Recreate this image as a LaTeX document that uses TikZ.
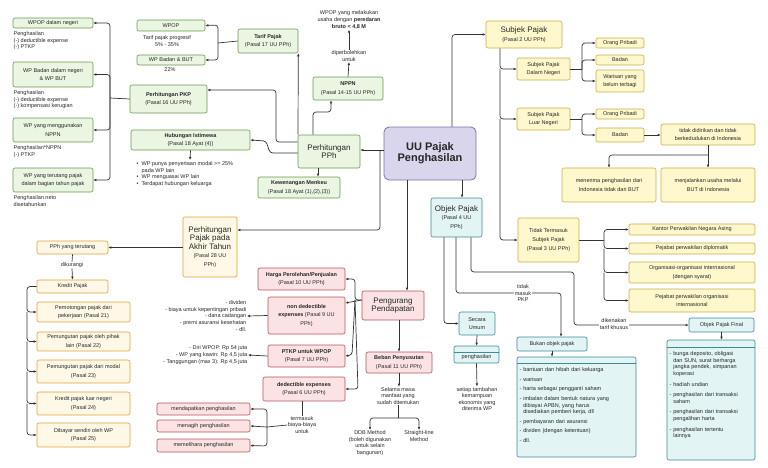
\documentclass[tikz,border=0pt]{standalone}
\usepackage{fontspec}
\setmainfont{Liberation Sans}
\usetikzlibrary{arrows.meta}
\definecolor{gF}{HTML}{EAF5E2}\definecolor{gD}{HTML}{6A9A50}
\definecolor{yF}{HTML}{FFF8CC}\definecolor{yD}{HTML}{C9AE45}
\definecolor{rF}{HTML}{FBE3E3}\definecolor{rD}{HTML}{B8505E}
\definecolor{bF}{HTML}{E2F4F4}\definecolor{bD}{HTML}{3C8C98}
\definecolor{pF}{HTML}{D9D5EC}\definecolor{pD}{HTML}{7D70AE}
\definecolor{oF}{HTML}{FFF8E6}\definecolor{oD}{HTML}{E0A030}
\newcommand{\fs}{\fontsize{5.5}{6.6}\selectfont}
\newcommand{\fh}{\fontsize{8}{9}\selectfont}
\newcommand{\bx}[7]{\node[#1,minimum width={(#5-#3)*1pt},minimum height={(#6-#4)*1pt}] (#2) at ({(#3+#5)/2},{(#4+#6)/2}) {#7};}
\tikzset{
 base/.style={draw,rounded corners=2pt,align=center,inner sep=0.5pt,font=\fs,line width=0.6pt,text=black!85},
 gbox/.style={base,fill=gF,draw=gD},
 ybox/.style={base,fill=yF,draw=yD},
 rbox/.style={base,fill=rF,draw=rD},
 bbox/.style={base,fill=bF,draw=bD},
 obox/.style={base,fill=oF,draw=oD},
 pbox/.style={base,fill=pF,draw=pD,line width=0.8pt,rounded corners=5pt},
 txt/.style={align=center,font=\fs,inner sep=0.5pt,text=black!85},
 ltxt/.style={align=left,font=\fs,inner sep=0.5pt,text=black!85},
 rtxt/.style={align=right,font=\fs,inner sep=0.5pt,text=black!85},
 arr/.style={draw=black!80,line width=0.7pt,rounded corners=3pt,-{Latex[length=3pt,width=2.6pt]}},
 ln/.style={draw=black!80,line width=0.7pt,rounded corners=3pt},
}
\begin{document}
\begin{tikzpicture}[x=1pt,y=-1pt]
\useasboundingbox (0,0) rectangle (768,467);
% main
\bx{pbox}{main}{384}{127}{476}{180}{\fontsize{11}{13}\selectfont\bfseries UU Pajak\\\fontsize{11}{13}\selectfont\bfseries Penghasilan}
% left green part
\bx{gbox}{pph}{298}{135}{360}{168}{\fh Perhitungan\\\fh PPh}
\bx{gbox}{tarif}{238}{29}{298}{53}{\textbf{Tarif Pajak}\\[2pt](Pasal 17 UU PPh)}
\bx{gbox}{wpop}{137}{20}{205}{31}{WPOP}
\node[txt] (t1) at (167,41) {Tarif pajak progresif\\5\% - 35\%};
\bx{gbox}{wpb}{137}{55}{205}{65}{WP Badan \& BUT}
\node[txt] (t2) at (170,70) {22\%};
\bx{gbox}{nppn}{313}{77}{383}{100}{\textbf{NPPN}\\[2pt](Pasal 14-15 UU PPh)}
\node[txt] (top) at (349,20) {WPOP yang melakukan\\usaha dengan \textbf{peredaran}\\\textbf{bruto < 4,8 M}};
\node[txt,fill=white] (dip) at (349,56) {diperbolehkan\\untuk};
\bx{gbox}{pkp}{130}{85}{207}{113}{\textbf{Perhitungan PKP}\\[2pt](Pasal 16 UU PPh)}
\bx{gbox}{l1}{13}{18}{93}{28}{WPOP dalam negeri}
\node[ltxt,anchor=north west] at (13,31) {Penghasilan\\(-) deductible expense\\(-) PTKP};
\bx{gbox}{l2}{13}{62}{93}{87}{WP Badan dalam negeri\\[2pt]\& WP BUT}
\node[ltxt,anchor=north west] at (13,90) {Penghasilan\\(-) deductible expense\\(-) kompensasi kerugian};
\bx{gbox}{l3}{13}{118}{93}{142}{WP yang menggunakan\\[2pt]NPPN}
\node[ltxt,anchor=north west] at (13,145) {Penghasilan*NPPN\\(-) PTKP};
\bx{gbox}{l4}{13}{168}{93}{192}{WP yang terutang pajak\\[2pt]dalam bagian tahun pajak}
\node[ltxt,anchor=north west] at (13,195) {Penghasilan neto\\disetahunkan};
\bx{gbox}{hub}{131}{130}{250}{150}{\textbf{Hubungan Istimewa}\\[2pt](Pasal 18 Ayat (4))}
\node[ltxt,anchor=north west] (bul) at (136,161) {\textbullet\ \ WP punya penyertaan modal >= 25\%\\\phantom{\textbullet\ \ }pada WP lain\\\textbullet\ \ WP menguasai WP lain\\\textbullet\ \ Terdapat hubungan keluarga};
\bx{gbox}{kew}{258}{177}{340}{198}{\textbf{Kewenangan Menkeu}\\[2pt](Pasal 18 Ayat (1),(2),(3))}
% akhir tahun
\bx{obox}{akhir}{183}{217}{237}{277}{\fh Perhitungan\\\fh Pajak pada\\\fh Akhir Tahun\\[2pt](Pasal 28 UU\\[2pt]PPh)}
\bx{obox}{teru}{37}{241}{108}{254}{PPh yang terutang}
\node[txt,fill=white] (kur) at (72,265) {dikurangi};
\bx{obox}{kred}{37}{280}{108}{293}{Kredit Pajak}
\bx{obox}{y1}{37}{302}{130}{322}{Pemotongan pajak dari\\[2pt]pekerjaan (Pasal 21)}
\bx{obox}{y2}{37}{332}{130}{351}{Pemungutan pajak oleh pihak\\[2pt]lain (Pasal 22)}
\bx{obox}{y3}{37}{360}{130}{383}{Pemungutan pajak dari modal\\[2pt](Pasal 23)}
\bx{obox}{y4}{37}{392}{130}{415}{Kredit pajak luar negeri\\[2pt](Pasal 24)}
\bx{obox}{y5}{37}{423}{130}{447}{Dibayar sendiri oleh WP\\[2pt](Pasal 25)}
% pengurang
\bx{rbox}{peng}{362}{291}{424}{320}{\fh Pengurang\\\fh Pendapatan}
\bx{rbox}{harga}{258}{268}{345}{290}{\textbf{Harga Perolehan/Penjualan}\\[2pt](Pasal 10 UU PPh)}
\bx{rbox}{nond}{268}{297}{345}{334}{\textbf{non dedectible}\\[2pt]\textbf{expenses} (Pasal 9 UU\\[2pt]PPh)}
\node[rtxt,anchor=east] (nl) at (247,316) {- dividen\\- biaya untuk kepentingan pribadi\\- dana cadangan\\- premi asuransi kesehatan\\- dll.};
\bx{rbox}{ptkp}{268}{345}{345}{367}{\textbf{PTKP untuk WPOP}\\[2pt](Pasal 7 UU PPh)}
\node[rtxt,anchor=east] (pl) at (248,355) {- Diri WPOP: Rp 54 juta\\- WP yang kawin: Rp 4,5 juta\\- Tanggungan (max 3): Rp 4,5 juta};
\bx{rbox}{ded}{263}{377}{345}{401}{\textbf{dedectible expenses}\\[2pt](Pasal 6 UU PPh)}
\node[txt] (term) at (302,425) {termasuk\\biaya-biaya\\untuk};
\bx{rbox}{r1}{157}{403}{250}{415}{mendapatkan penghasilan}
\bx{rbox}{r2}{157}{420}{250}{432}{menagih penghasilan}
\bx{rbox}{r3}{157}{439}{250}{452}{memelihara penghasilan}
\bx{rbox}{beban}{366}{352}{432}{373}{\textbf{Beban Penyusutan}\\[2pt](Pasal 11 UU PPh)}
\node[txt] (sel) at (398,396) {Selama masa\\manfaat yang\\sudah ditentukan};
\node[txt,anchor=north] (ddb) at (370,430) {DDB Method\\(boleh digunakan\\untuk selain\\bangunan)};
\node[txt,anchor=north] (sl) at (419,430) {Straight-line\\Method};
% objek
\bx{bbox}{objek}{431}{198}{482}{237}{\fh Objek Pajak\\[2pt](Pasal 4 UU\\[2pt]PPh)}
\bx{bbox}{umum}{459}{312}{495}{335}{Secara\\[2pt]Umum}
\bx{bbox}{pgh}{454}{346}{499}{363}{}
\draw[bD,line width=0.6pt] (454,352) -- (499,352);
\node[txt] at (476.5,357.5) {penghasilan};
\node[txt] (setiap) at (477,399) {setiap tambahan\\kemampuan\\ekonomis yang\\diterima WP};
\bx{bbox}{bukan}{517}{337}{587}{351}{Bukan objek pajak}
\bx{bbox}{blist}{517}{357}{636}{457}{}
\draw[bD,line width=0.6pt] (517,363) -- (636,363);
\node[ltxt,anchor=north west,text width=114pt] at (519,367) {- bantuan dan hibah dari keluarga\\[3pt]- warisan\\[3pt]- harta sebagai pengganti saham\\[3pt]- imbalan dalam bentuk natura yang\\\phantom{- }dibiayai APBN, yang harus\\\phantom{- }disediakan pemberi kerja, dll\\[3pt]- pembayaran dari asuransi\\[3pt]- dividen (dengan ketentuan)\\[3pt]- dll.};
\bx{bbox}{final}{689}{318}{754}{332}{Objek Pajak Final}
\bx{bbox}{flist}{667}{340}{755}{460}{}
\draw[bD,line width=0.6pt] (667,347) -- (755,347);
\node[ltxt,anchor=north west,text width=86pt] at (669,351) {- bunga deposito, obligasi\\\phantom{- }dan SUN, surat berharga\\\phantom{- }jangka pendek, simpanan\\\phantom{- }koperasi\\[4pt]- hadiah undian\\[4pt]- penghasilan dari transaksi\\\phantom{- }saham\\[4pt]- penghasilan dari transaksi\\\phantom{- }pengalihan harta\\[4pt]- penghasilan tertentu\\\phantom{- }lainnya};
% subjek
\bx{ybox}{subj}{486}{21}{562}{48}{\fh Subjek Pajak\\[2pt](Pasal 2 UU PPh)}
\bx{ybox}{dn}{517}{58}{570}{80}{Subjek Pajak\\[2pt]Dalam Negeri}
\bx{ybox}{op1}{596}{38}{644}{48}{Orang Pribadi}
\bx{ybox}{bd1}{596}{55}{644}{65}{Badan}
\bx{ybox}{war}{596}{70}{644}{92}{Warisan yang\\[2pt]belum terbagi}
\bx{ybox}{lnn}{517}{108}{570}{130}{Subjek Pajak\\[2pt]Luar Negeri}
\bx{ybox}{op2}{596}{109}{644}{119}{Orang Pribadi}
\bx{ybox}{bd2}{596}{128}{644}{142}{Badan}
\bx{ybox}{tdk}{661}{124}{755}{145}{tidak didirikan dan tidak\\[2pt]berkedudukan di Indonesia}
\bx{ybox}{mene}{562}{168}{656}{202}{menerima penghasilan dari\\[2pt]Indonesia tidak dari BUT}
\bx{ybox}{menj}{661}{168}{755}{202}{menjalankan usaha melalui\\[2pt]BUT di Indonesia}
\bx{ybox}{tt}{518}{218}{579}{262}{Tidak Termasuk\\[2pt]Subjek Pajak\\[2pt](Pasal 3 UU PPh)}
\bx{ybox}{k1}{629}{224}{755}{235}{Kantor Perwakilan Negara Asing}
\bx{ybox}{k2}{629}{243}{755}{254}{Pejabat perwakilan diplomatik}
\bx{ybox}{k3}{629}{262}{755}{283}{Organisasi-organisasi internasional\\[2pt](dengan syarat)}
\bx{ybox}{k4}{629}{289}{755}{312}{Pejabat perwakilan organisasi\\[2pt]internasional}
% ---------- connectors
\draw[arr] (main.north -| 452,0) |- (subj.west);
\draw[arr] (main.west |- 0,150) -- (pph.east |- 0,150);
\draw[arr] (380,150) -- (380,230) -- (akhir.east |- 0,230);
\draw[arr] (main.south -| 407,0) -- (peng.north -| 407,0);
\draw[arr] (main.south -| 462,0) -- (objek.north -| 462,0);
% pph
\draw[arr] (pph.north -| 298,0) -- (tarif.south east);
\draw[arr] (pph.north -| 313,0) -- (313,112) -- (331,112) -- (nppn.south -| 331,0);
\draw[arr] (nppn.north) -- (dip.south);
\draw[arr] (dip.north) -- (top.south);
\draw[arr] (pph.west |- 0,142) -- (276,142) -- (276,90) -- (pkp.east |- 0,90);
\draw[arr] (pph.west |- 0,153) -- (270,153) -- (266,141) -- (hub.east);
\draw[arr] (pph.south -| 318,0) -- (kew.north -| 318,0);
\draw[arr] (hub.south) -- (190,160);
\draw[ln] (tarif.west) -- (218,43);
\draw[arr] (218,43) -- (218,25) -- (wpop.east);
\draw[arr] (218,43) -- (218,60) -- (wpb.east);
\draw[ln] (pkp.west) -- (110,98);
\draw[arr] (110,98) -- (110,23) -- (l1.east);
\draw[arr] (110,98) -- (110,74.5) -- (l2.east);
\draw[arr] (110,98) -- (110,130) -- (l3.east);
\draw[arr] (110,98) -- (110,180) -- (l4.east);
% akhir tahun
\draw[arr] (akhir.west |- 0,247.5) -- (teru.east);
\draw[ln] (teru.south) -- (kur.north);
\draw[arr] (kur.south) -- (kred.north);
\draw[arr] (kred.west) -- (27,286.5) -- (27,312) -- (y1.west);
\draw[arr] (27,312) -- (27,341.5) -- (y2.west);
\draw[arr] (27,341.5) -- (27,371.5) -- (y3.west);
\draw[arr] (27,371.5) -- (27,403.5) -- (y4.west);
\draw[arr] (27,403.5) -- (27,435) -- (y5.west);
% pengurang
\draw[arr] (peng.west |- 0,300) -- (355,300) -- (355,279) -- (harga.east);
\draw[arr] (peng.west |- 0,300) -- (nond.east |- 0,303);
\draw[arr] (355,300) -- (352,355) -- (ptkp.east);
\draw[arr] (355,300) -- (358,389) -- (ded.east);
\draw[arr] (nond.west) -- (nl.east);
\draw[arr] (ptkp.west) -- (pl.east);
\draw[ln] (term.north) -- (ded.south -| term.north);
\draw[ln] (term.west) -- (267,427);
\draw[arr] (267,427) -- (267,409) -- (r1.east);
\draw[arr] (267,427) -- (r2.east);
\draw[arr] (267,427) -- (267,446) -- (r3.east);
\draw[arr] (peng.south -| 399,0) -- (beban.north -| 399,0);
\draw[arr] (beban.south -| 399,0) -- (sel.north -| 399,0);
\draw[ln] (sel.south -| 398,0) -- (398,418);
\draw[arr] (398,418) -- (370,418) -- (ddb.north);
\draw[arr] (398,418) -- (419,418) -- (sl.north);
% objek
\draw[arr] (objek.south -| 444,0) |- (umum.west);
\draw[arr] (umum.south) -- (pgh.north);
\draw[arr] (pgh.south) -- (setiap.north);
\draw[arr] (objek.south -| 456,0) -- (456,293) -- (561,293) -- (bukan.north -| 561,0);
\node[txt,fill=white] at (523,293) {tidak\\masuk\\PKP};
\draw[arr] (bukan.south -| 552,0) -- (blist.north -| 552,0);
\draw[arr] (objek.south -| 471,0) -- (471,272) -- (574,272) -- (574,325) -- (final.west);
\node[txt,fill=white] at (614,324) {dikenakan\\tarif khusus};
\draw[arr] (final.south) -- (flist.north -| final.south);
% subjek
\draw[arr] (subj.south -| 500,0) -- (500,69) -- (dn.west);
\draw[arr] (500,69) -- (500,119) -- (lnn.west);
\draw[arr] (500,119) -- (500,240) -- (tt.west);
\draw[ln] (dn.east) -- (582,69);
\draw[arr] (582,69) -- (582,43) -- (op1.west);
\draw[arr] (582,69) -- (582,60) -- (bd1.west);
\draw[arr] (582,69) -- (582,81) -- (war.west);
\draw[ln] (lnn.east) -- (582,119);
\draw[arr] (582,119) -- (582,114) -- (op2.west);
\draw[arr] (582,119) -- (582,135) -- (bd2.west);
\draw[arr] (bd2.east) -- (tdk.west |- bd2.east);
\draw[ln] (tdk.south) -- (708,155);
\draw[arr] (708,155) -- (609,155) -- (mene.north -| 609,0);
\draw[arr] (708,155) -- (menj.north);
\draw[ln] (tt.east) -- (604,240);
\draw[arr] (604,240) -- (604,229.5) -- (k1.west);
\draw[arr] (604,240) -- (604,248.5) -- (k2.west);
\draw[arr] (604,248.5) -- (604,272.5) -- (k3.west);
\draw[arr] (604,272.5) -- (604,300.5) -- (k4.west);
\end{tikzpicture}
\end{document}
